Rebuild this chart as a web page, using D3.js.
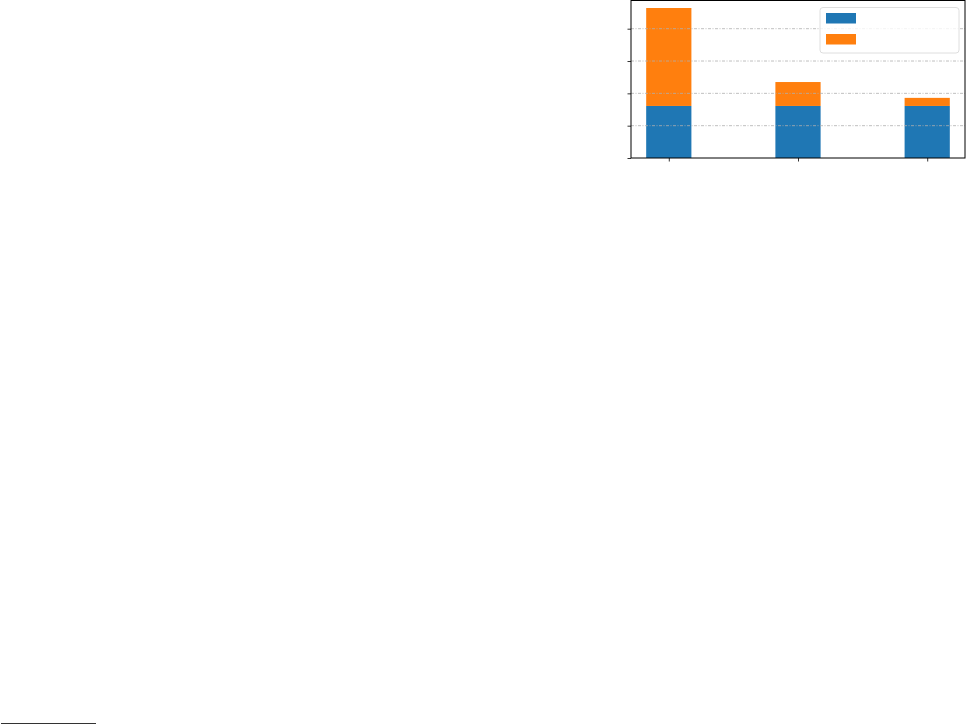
<!DOCTYPE html>
<html>
<head>
<meta charset="utf-8">
<script src="https://cdn.jsdelivr.net/npm/d3@7"></script>
<style>
  body { margin: 0; background: #fff; }
  svg { display: block; }
</style>
</head>
<body>
<div id="chart"></div>
<script>
// data (no labels are printed in it)
const categories = [0, 1, 2];
const baseValues = [1.61, 1.61, 1.61];
const extraValues = [3.03, 0.74, 0.25];
const yTicks = [0, 1, 2, 3, 4];
const seriesNames = ["base", "extra"];
const colors = ["#1f77b4", "#ff7f0e"];

const width = 967, height = 725;
const plotLeft = 631, plotRight = 965, plotTop = 0.5, plotBottom = 158;
const barWidth = 0.35;

const svg = d3.select("#chart")
    .append("svg")
    .attr("width", width)
    .attr("height", height);

const totals = categories.map((c, i) => baseValues[i] + extraValues[i]);
const xPad = (categories.length - 1 + barWidth) * 0.05;

const x = d3.scaleLinear()
    .domain([categories[0] - barWidth / 2 - xPad, categories[categories.length - 1] + barWidth / 2 + xPad])
    .range([plotLeft, plotRight]);

const y = d3.scaleLinear()
    .domain([0, d3.max(totals) * 1.05])
    .range([plotBottom, plotTop]);

// bars
const stacks = [baseValues, extraValues];
stacks.forEach((vals, s) => {
    svg.append("g")
        .attr("class", "series-" + seriesNames[s])
        .selectAll("rect")
        .data(categories)
        .enter().append("rect")
        .attr("x", (d) => x(d - barWidth / 2))
        .attr("width", (d) => x(d + barWidth / 2) - x(d - barWidth / 2))
        .attr("y", (d, i) => y((s ? baseValues[i] : 0) + vals[i]))
        .attr("height", (d, i) => y(s ? baseValues[i] : 0) - y((s ? baseValues[i] : 0) + vals[i]))
        .attr("fill", colors[s]);
});

// grid on top of bars
svg.append("g")
    .selectAll("line")
    .data(yTicks.filter(t => t > 0))
    .enter().append("line")
    .attr("x1", plotLeft)
    .attr("x2", plotRight)
    .attr("y1", d => y(d))
    .attr("y2", d => y(d))
    .attr("stroke", "#b0b0b0")
    .attr("stroke-width", 0.8)
    .attr("stroke-dasharray", "3,1.5,1,1.5");

// axes (ticks only, no labels shown)
const yAxis = svg.append("g")
    .attr("transform", `translate(${plotLeft},0)`)
    .call(d3.axisLeft(y).tickValues(yTicks).tickSize(3.5).tickFormat(""));
yAxis.select(".domain").remove();

const xAxis = svg.append("g")
    .attr("transform", `translate(0,${plotBottom})`)
    .call(d3.axisBottom(x).tickValues(categories).tickSize(3.5).tickFormat(""));
xAxis.select(".domain").remove();

svg.selectAll(".tick line").attr("stroke", "#000").attr("stroke-width", 0.8);

// spines
svg.append("rect")
    .attr("x", plotLeft)
    .attr("y", plotTop)
    .attr("width", plotRight - plotLeft)
    .attr("height", plotBottom - plotTop)
    .attr("fill", "none")
    .attr("stroke", "#000")
    .attr("stroke-width", 1);

// legend
const legend = svg.append("g").attr("transform", "translate(820,7.5)");
legend.append("rect")
    .attr("width", 139)
    .attr("height", 45.5)
    .attr("rx", 3)
    .attr("fill", "#fff")
    .attr("fill-opacity", 0.8)
    .attr("stroke", "#d6d6d6")
    .attr("stroke-width", 0.8);
legend.selectAll(".swatch")
    .data(seriesNames)
    .enter().append("rect")
    .attr("class", "swatch")
    .attr("x", 6)
    .attr("y", (d, i) => 5.5 + i * 21)
    .attr("width", 30)
    .attr("height", 10.5)
    .attr("fill", (d, i) => colors[i]);

// short rule at bottom left
svg.append("line")
    .attr("x1", 1)
    .attr("x2", 96)
    .attr("y1", 723.5)
    .attr("y2", 723.5)
    .attr("stroke", "#333")
    .attr("stroke-width", 1);
</script>
</body>
</html>
